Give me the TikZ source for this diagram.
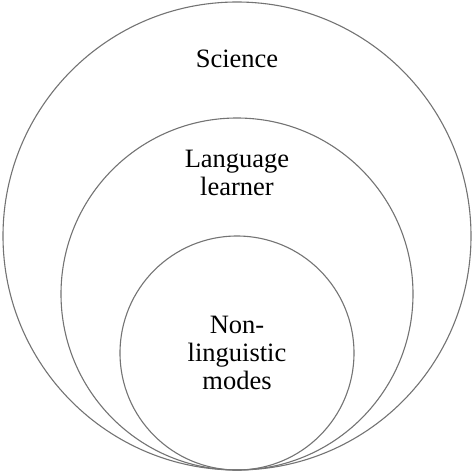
\documentclass[tikz,border=0pt]{standalone}
\usepackage{fontspec}
\setmainfont{Liberation Serif}
\begin{document}
\begin{tikzpicture}[x=1pt,y=-1pt,
  ring/.style={draw=black!55,line width=1.1pt},
  lbl/.style={font=\fontsize{26.5}{28}\selectfont,anchor=base,inner sep=0pt,text=black}]
\useasboundingbox (0,0) rectangle (474,474);
\draw[ring] (237,236) circle[radius=234];
\draw[ring] (237,294) circle[radius=176];
\draw[ring] (237,353) circle[radius=117];
\node[lbl] (sci) at (237,67) {Science};
\node[lbl] (ll1) at (237,167) {Language};
\node[lbl] (ll2) at (237,195) {learner};
\node[lbl] (nl1) at (237,333) {Non-};
\node[lbl] (nl2) at (237,361) {linguistic};
\node[lbl] (nl3) at (237,389) {modes};
\end{tikzpicture}
\end{document}
